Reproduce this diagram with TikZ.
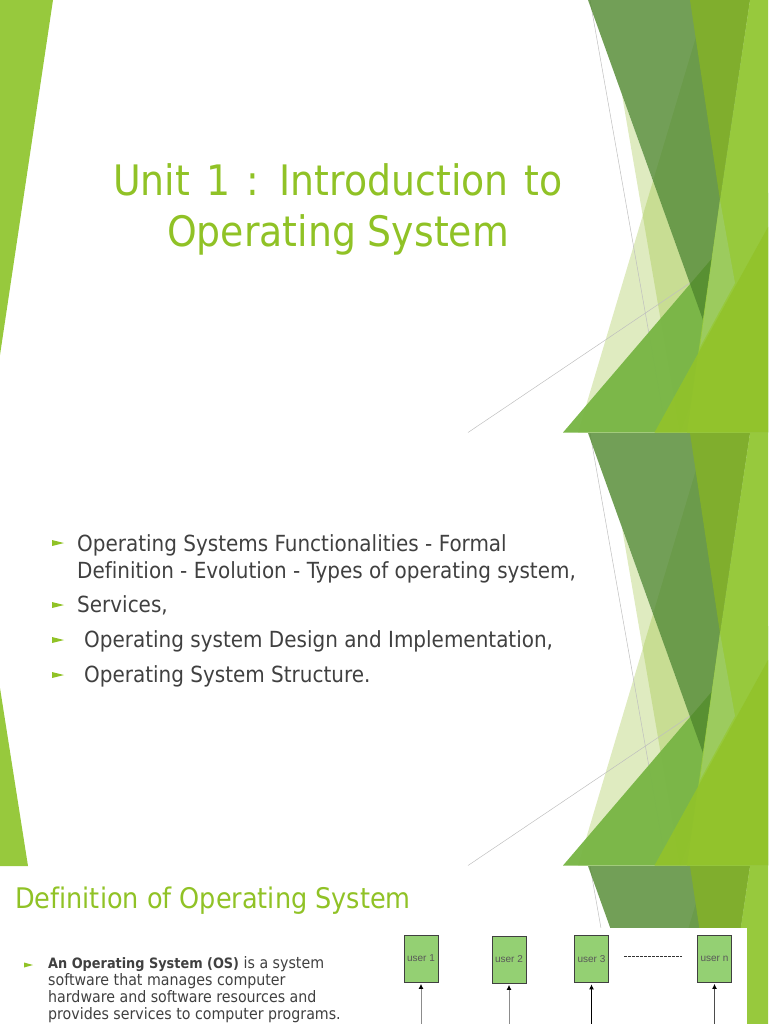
\documentclass[tikz,border=0pt]{standalone}
\usepackage{fontspec}
\setmainfont[Ligatures=NoCommon]{DejaVu Sans Condensed}
\newfontfamily\boxfont{Liberation Sans}
\usetikzlibrary{arrows.meta}
\definecolor{titlegreen}{HTML}{90C226}
\definecolor{bodygrey}{HTML}{404040}
\definecolor{leafdark}{HTML}{4F872D}
\definecolor{leafolive}{HTML}{82B02A}
\definecolor{leaflight}{HTML}{97C93D}
\definecolor{leafpale}{HTML}{9CCB5E}
\definecolor{leafmid}{HTML}{78B545}
\definecolor{leafbright}{HTML}{92C32B}
\definecolor{leafwash}{HTML}{94BC2D}
\definecolor{userfill}{HTML}{94D073}

\begin{document}
\begin{tikzpicture}[x=1pt,y=-1pt,
        line/.style={black!25,line width=0.5pt},
        title/.style={anchor=base,text=titlegreen,font=\fontsize{42}{42}\selectfont,inner sep=0pt},
        heading/.style={anchor=base west,text=titlegreen,font=\fontsize{28.4}{28.4}\selectfont,inner sep=0pt},
        item/.style={anchor=base west,text=bodygrey,font=\fontsize{22.2}{22.2}\selectfont,inner sep=0pt},
        small/.style={anchor=base west,text=bodygrey,font=\fontsize{15.8}{15.8}\selectfont,inner sep=0pt},
        user/.style={draw=black!75,line width=0.8pt,fill=userfill,minimum width=34pt,minimum height=47pt,inner sep=0pt,font=\boxfont\fontsize{10}{10}\selectfont,text=black!65},
        link/.style={line width=0.9pt,-{Latex[length=5pt,width=5pt,black]},shorten >=1.5pt},
        facet/.pic={
            \fill[leafwash,fill opacity=0.3] (622,95) -- (680,432.5) -- (750,432.5) -- (703,320) -- cycle;
            \fill[leafwash,fill opacity=0.3] (707,0) -- (578,432.5) -- (680,432.5) -- (735,283) -- cycle;
            \draw[line] (590,0) -- (663,413);
            \draw[line] (468,432.5) -- (690,283);
            \fill[leafmid,fill opacity=0.96] (563,432.5) -- (768,193) -- (768,432.5) -- cycle;
            \fill[leafdark,fill opacity=0.8] (588,0) -- (750,0) -- (703,320) -- cycle;
            \fill[leafolive,fill opacity=0.92] (690,0) -- (750,0) -- (720,200) -- cycle;
            \fill[leaflight] (750,0) -- (768,0) -- (768,432.5) -- (687,432.5) -- (720,200) -- cycle;
            \fill[leafpale] (720,200) -- (735,283) -- (700,347) -- cycle;
            \fill[leafbright,fill opacity=0.92] (654.5,432.5) -- (768,227) -- (768,432.5) -- cycle;
        }]
    \useasboundingbox (0,0) rectangle (768,1024);
    \clip (0,0) rectangle (768,1024);

    % slide backgrounds
    \pic at (0,0) {facet};
    \pic at (0,433) {facet};
    \pic at (0,866) {facet};
    \fill[leaflight] (0,0) -- (53,0) -- (0,355) -- cycle;
    \fill[leaflight] (0,688) -- (28,866) -- (0,866) -- cycle;
    \fill[white] (380,928) rectangle (747,1024);

    % slide 1
    \node[title] (title1) at (338,196) {\spaceskip=16.3pt\relax Unit 1 : Introduction to};
    \node[title] (title2) at (338,247) {Operating System};

    % slide 2
    \foreach \y in {543,605,640,675}
        \fill[titlegreen] (52,\y-3) -- (64,\y) -- (52,\y+3) -- cycle;
    \node[item] (topic1) at (77,551) {Operating Systems Functionalities - Formal};
    \node[item] (topic1b) at (77,578) {Definition - Evolution - Types of operating system,};
    \node[item] (topic2) at (77,612) {Services,};
    \node[item] (topic3) at (84,647) {Operating system Design and Implementation,};
    \node[item] (topic4) at (84,682) {Operating System Structure.};

    % slide 3
    \node[heading] (heading) at (15,908) {Definition of Operating System};
    \fill[titlegreen] (24,962.5) -- (33,965) -- (24,967.5) -- cycle;
    \node[small] (def1) at (48,968) {{\fontsize{14.3}{14.3}\selectfont\bfseries An Operating System (OS)} is a system};
    \node[small] (def2) at (48,985) {software that manages computer};
    \node[small] (def3) at (48,1002) {hardware and software resources and};
    \node[small] (def4) at (48,1019) {provides services to computer programs.};

    \node[user] (user1) at (421,958.5) {user 1};
    \node[user] (user2) at (509,959.5) {user 2};
    \node[user] (user3) at (591.5,959) {user 3};
    \node[user] (usern) at (714.5,958.5) {user n};

    \coordinate (from1) at (421,1024);
    \coordinate (from2) at (509,1024);
    \coordinate (from3) at (591.5,1024);
    \coordinate (fromn) at (714.5,1024);
    \draw[link,black!45] (from1) -- (user1);
    \draw[link,black!45] (from2) -- (user2);
    \draw[link,black] (from3) -- (user3);
    \draw[link,black!70] (fromn) -- (usern);

    \coordinate (gapa) at (624,956);
    \coordinate (gapb) at (682,956);
    \draw[black!80,line width=0.6pt,dash pattern=on 2.5pt off 1.5pt] (gapa) -- (gapb);
\end{tikzpicture}
\end{document}
